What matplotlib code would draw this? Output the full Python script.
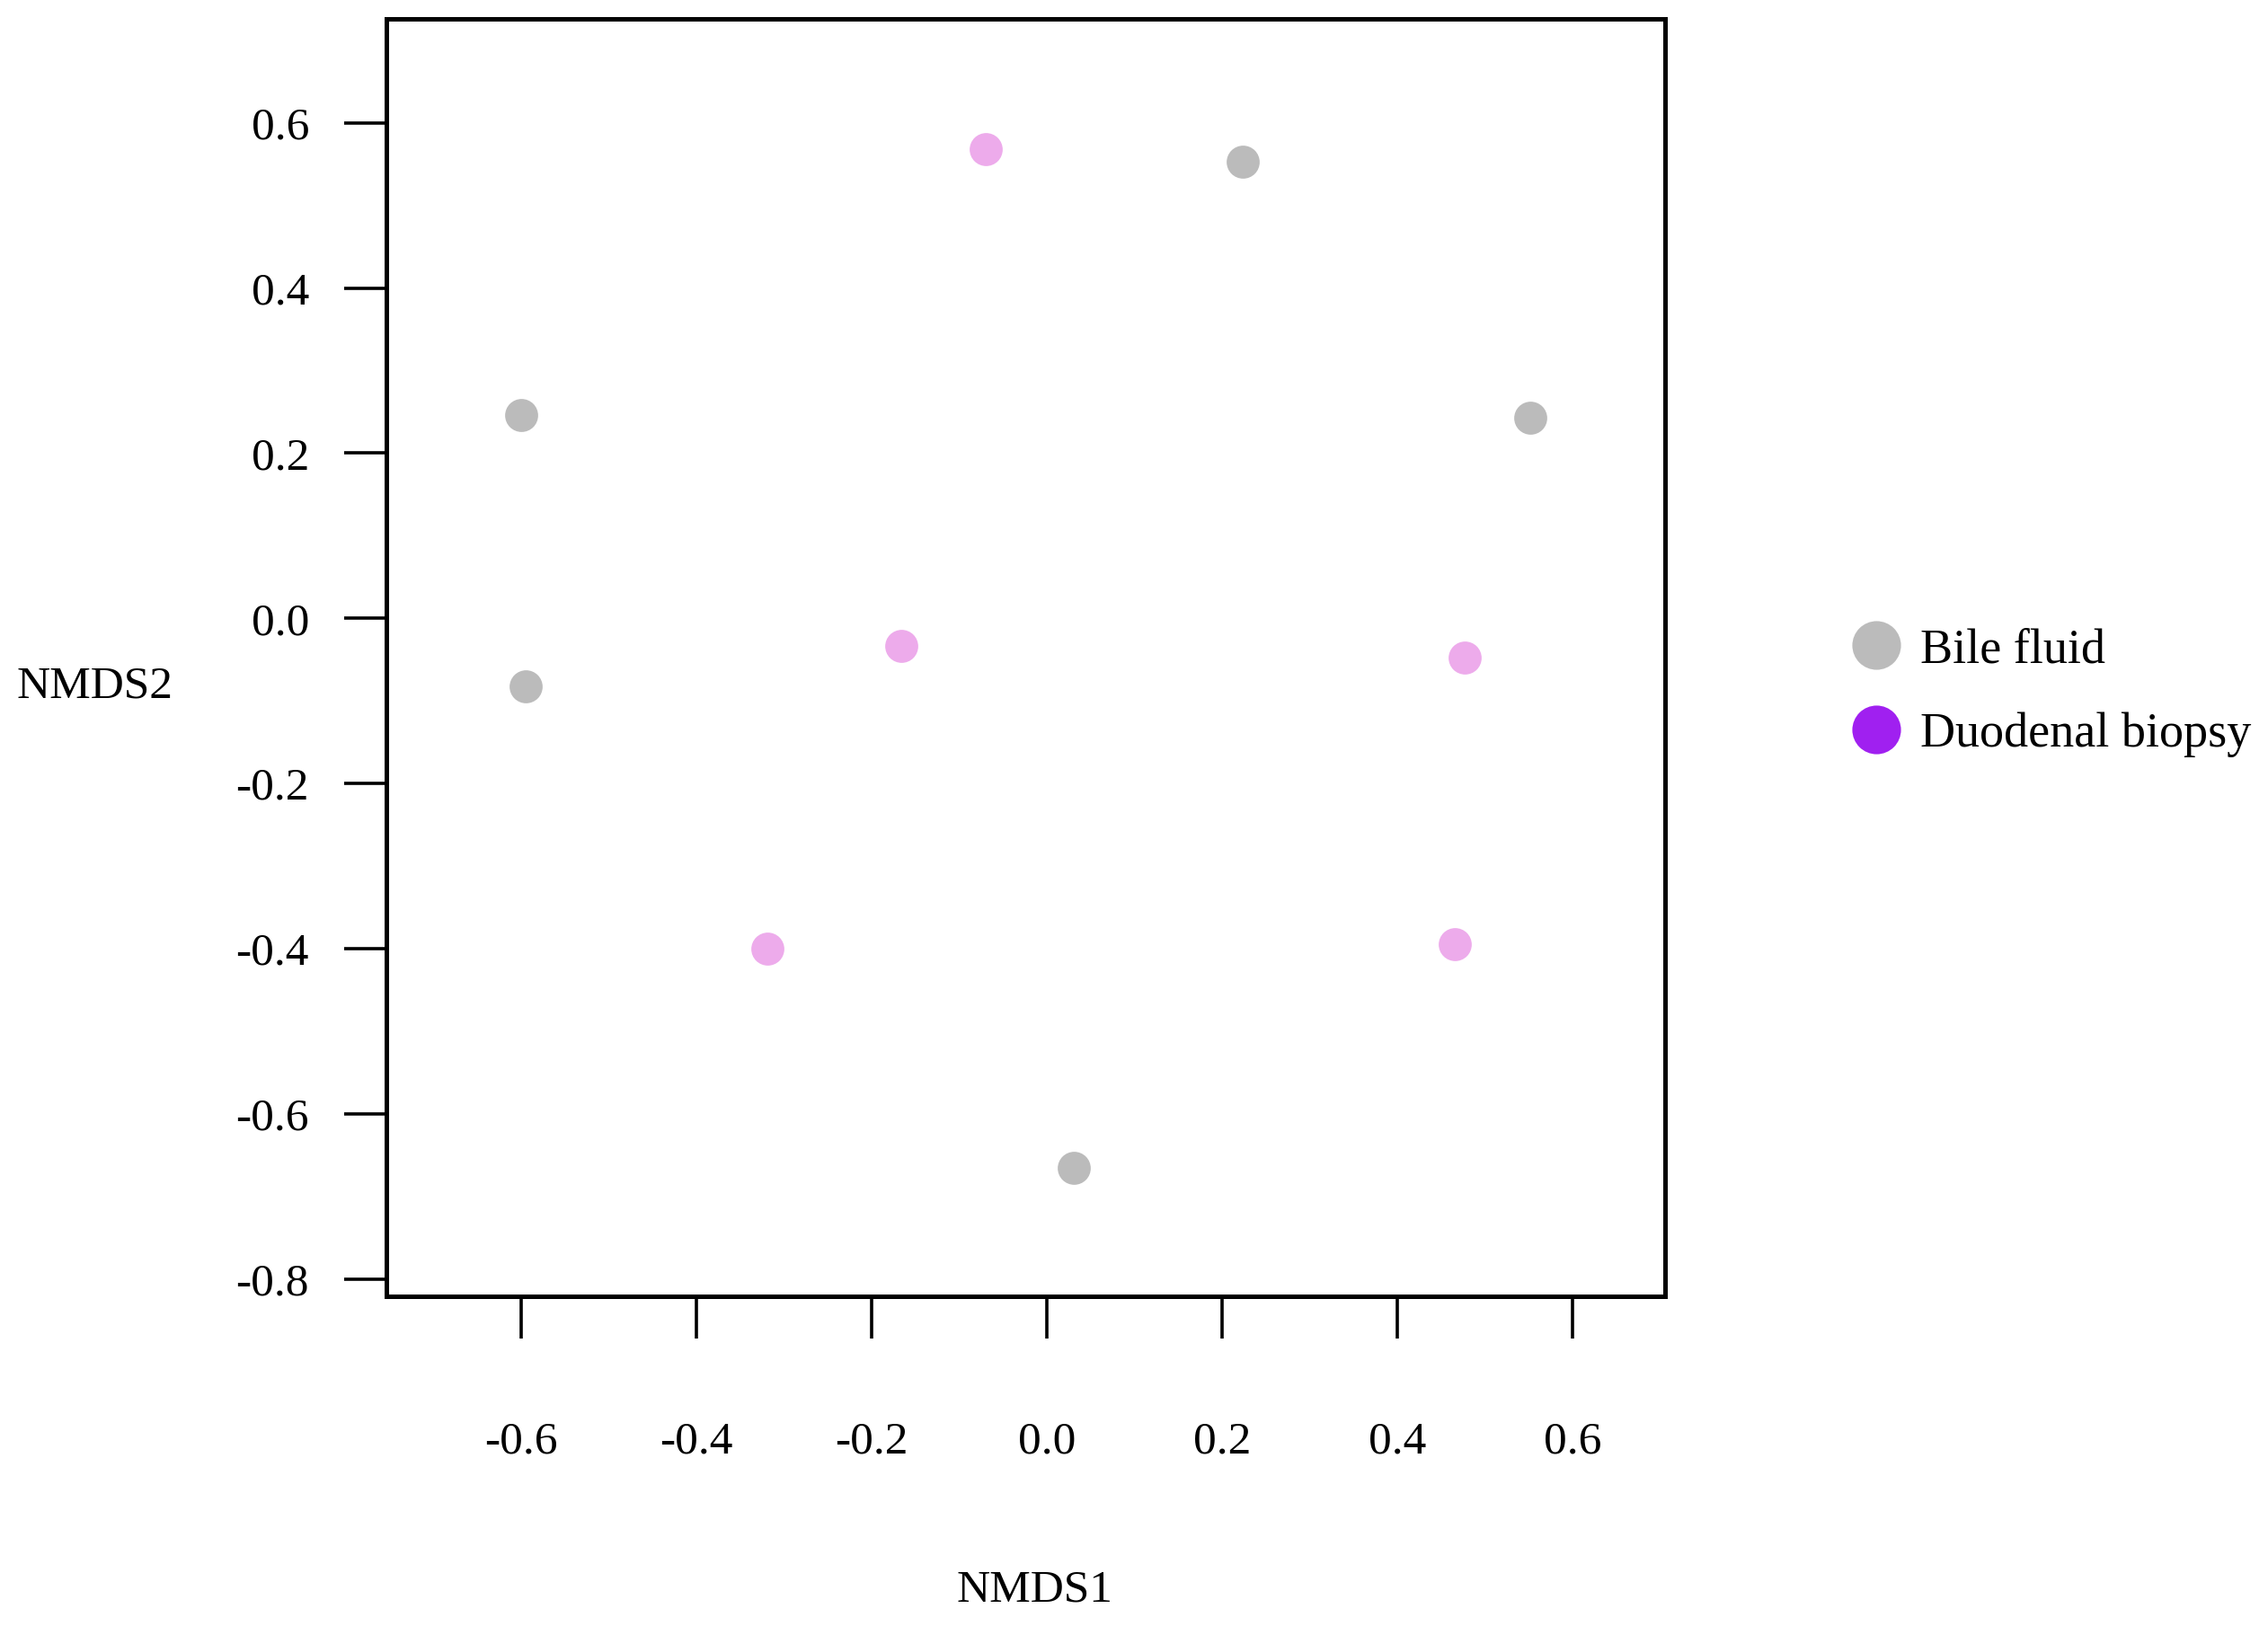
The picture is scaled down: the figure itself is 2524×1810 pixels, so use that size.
import matplotlib
matplotlib.use("Agg")
import matplotlib.pyplot as plt
from matplotlib.lines import Line2D

plt.rcParams['font.family'] = ['Liberation Serif', 'DejaVu Serif']

# NMDS scores
bile_x = [-0.600, -0.595, 0.224, 0.552, 0.031]
bile_y = [0.246, -0.082, 0.553, 0.243, -0.665]
duod_x = [-0.070, -0.166, 0.477, -0.319, 0.466]
duod_y = [0.568, -0.033, -0.047, -0.400, -0.395]

groups = ["Bile fluid", "Duodenal biopsy"]
point_colors = ["#BBBBBB", "#EDABEB"]
legend_colors = ["#BBBBBB", "#A020F0"]

xticks = [-0.6, -0.4, -0.2, 0.0, 0.2, 0.4, 0.6]
yticks = [0.6, 0.4, 0.2, 0.0, -0.2, -0.4, -0.6, -0.8]

fig = plt.figure(figsize=(25.24, 18.10), dpi=100)
ax = fig.add_axes([0.1704, 0.2028, 0.5638, 0.7856])

ax.scatter(bile_x, bile_y, s=700, color=point_colors[0], linewidths=0, zorder=3)
ax.scatter(duod_x, duod_y, s=700, color=point_colors[1], linewidths=0, zorder=3)

ax.set_xlim(-0.7535, 0.7056)
ax.set_ylim(-0.821, 0.726)
ax.set_xticks(xticks)
ax.set_yticks(yticks)
ax.set_xticklabels(["%.1f" % v for v in xticks])
ax.set_yticklabels(["%.1f" % v for v in yticks])

for sp in ax.spines.values():
    sp.set_linewidth(3.6)
ax.tick_params(axis='both', direction='out', length=34, width=2.6,
               labelsize=37)
ax.tick_params(axis='x', pad=66)
ax.tick_params(axis='y', pad=28)

ax.set_xlabel("NMDS1", fontsize=37)
ax.set_ylabel("NMDS2", fontsize=37, rotation=0)
ax.xaxis.set_label_coords(0.507, -0.214)
ax.yaxis.set_label_coords(-0.228, 0.477)
ax.yaxis.label.set_verticalalignment('center')
ax.yaxis.label.set_horizontalalignment('center')

handles = [Line2D([], [], marker='o', linestyle='none', markersize=39,
                  markerfacecolor=c, markeredgewidth=0) for c in legend_colors]
fig.legend(handles, groups, loc='center left', bbox_to_anchor=(0.795, 0.574),
           frameon=False, fontsize=39, handletextpad=0.3, labelspacing=0.8,
           handlelength=1.2)

fig.savefig("out.png", dpi=100, facecolor="white")
